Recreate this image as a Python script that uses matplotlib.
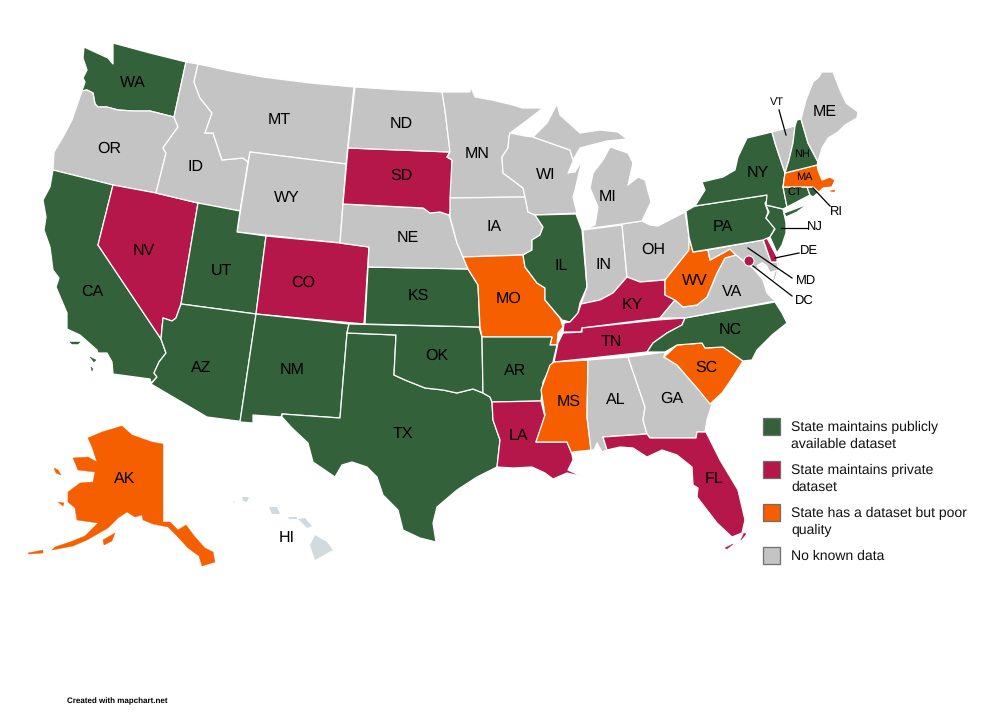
import matplotlib
matplotlib.use('Agg')
import matplotlib.pyplot as plt
from matplotlib.patches import Polygon, Rectangle, Circle

plt.rcParams['font.family'] = ['Liberation Sans', 'DejaVu Sans']
plt.rcParams['text.hinting'] = 'none'
plt.rcParams['text.hinting_factor'] = 1

# Status groups
public_states = ['WA', 'CA', 'UT', 'AZ', 'NM', 'TX', 'OK', 'KS', 'AR', 'IL', 'NC', 'PA', 'NY', 'NJ', 'NH', 'CT', 'RI']
private_states = ['NV', 'CO', 'SD', 'KY', 'TN', 'LA', 'FL', 'DE', 'DC']
poor_states = ['AK', 'MO', 'MS', 'WV', 'SC', 'MA']

colors = {'public': '#33623a', 'private': '#b5174b', 'poor': '#f65f00', 'none': '#c4c4c4'}
hawaii_color = '#d0dadf'

legend_labels = [
    ('public', 'State maintains publicly\navailable dataset'),
    ('private', 'State maintains private\ndataset'),
    ('poor', 'State has a dataset but poor\nquality'),
    ('none', 'No known data'),
]

# State outlines in pixels
outlines = {
    'WA': [(84,47),(97,53),(108,58),(113,64),(113,53),(113,43),(150,53),(186,62),(174,117),(150,111),(133,111),(118,110),(107,107),(98,107),(95,104),(93,93),(87,90),(82,91),(85,82),(83,78),(87,70),(83,58)],
    'OR': [(82,91),(87,90),(93,93),(95,104),(98,107),(107,107),(118,110),(133,111),(150,111),(174,117),(178,127),(170,138),(163,148),(166,153),(156,193),(113,185),(53,170),(54,152),(63,137),(72,120)],
    'CA': [(53,170),(113,185),(98,245),(161,339),(166,353),(159,362),(154,373),(157,377),(151,383),(150,379),(113,374),(112,362),(107,353),(98,353),(97,350),(80,335),(67,329),(67,313),(56,287),(59,278),(53,270),(50,247),(44,230),(46,217),(43,200),(50,187)],
    'NV': [(113,185),(156,193),(198,203),(181,304),(176,318),(172,321),(163,318),(161,339),(98,245)],
    'ID': [(186,62),(198,64),(194,82),(200,98),(212,113),(205,133),(213,133),(222,160),(243,158),(248,162),(240,211),(198,203),(156,193),(166,153),(163,148),(170,138),(178,127),(174,117)],
    'MT': [(198,64),(230,71),(263,77),(310,83),(354,87),(346,164),(250,152),(248,162),(243,158),(222,160),(213,133),(205,133),(212,113),(200,98),(194,82)],
    'WY': [(250,152),(346,164),(340,243),(237,232)],
    'UT': [(198,203),(240,211),(237,232),(266,236),(256,314),(181,304)],
    'CO': [(266,236),(340,243),(369,247),(364,324),(256,314)],
    'AZ': [(181,304),(256,314),(240,422),(253,423),(207,417),(151,384),(157,377),(154,373),(159,362),(166,353),(161,339),(163,318),(172,321),(176,318)],
    'NM': [(256,314),(349,324),(347,333),(340,418),(282,414),(281,417),(253,415),(253,423),(240,422)],
    'TX': [(347,333),(396,335),(394,375),(405,380),(425,388),(443,390),(457,393),(473,389),(483,393),(490,397),(492,402),(493,420),(500,440),(497,467),(477,477),(457,490),(437,507),(433,523),(436,542),(420,538),(403,530),(398,510),(383,495),(377,477),(367,467),(352,462),(342,465),(335,477),(313,462),(308,443),(292,428),(282,417),(282,414),(340,418)],
    'OK': [(349,324),(479,327),(482,337),(483,393),(473,389),(457,393),(443,390),(425,388),(405,380),(394,375),(396,335),(347,333)],
    'KS': [(368,267),(468,269),(473,277),(478,285),(480,327),(365,324)],
    'NE': [(343,204),(423,208),(430,213),(440,212),(449,215),(457,243),(463,257),(468,269),(368,267),(369,247),(340,243)],
    'SD': [(348,148),(450,152),(447,157),(452,160),(452,197),(450,213),(449,215),(440,212),(430,213),(423,208),(343,204)],
    'ND': [(355,87),(400,90),(442,92),(445,110),(450,152),(348,148)],
    'MN': [(442,92),(470,92),(470,85),(475,97),(492,100),(513,105),(522,108),(543,108),(525,122),(510,133),(509,137),(508,148),(502,157),(503,173),(523,188),(525,197),(450,198),(452,160),(447,157),(450,152),(445,110)],
    'IA': [(450,198),(525,197),(528,212),(535,215),(543,227),(540,235),(532,240),(532,250),(523,255),(463,257),(457,243),(450,217)],
    'MO': [(463,257),(523,255),(525,267),(537,283),(545,288),(545,300),(560,318),(563,327),(558,333),(557,345),(550,345),(552,337),(482,337),(480,327),(478,285),(473,277),(468,269)],
    'AR': [(482,337),(552,337),(550,345),(557,345),(553,362),(543,382),(541,401),(492,402),(490,397),(483,393)],
    'LA': [(492,402),(541,401),(545,417),(536,442),(567,442),(572,454),(573,460),(568,470),(583,477),(567,473),(553,479),(545,473),(532,467),(513,468),(497,467),(500,440),(493,420)],
    'WI': [(510,133),(525,136),(533,137),(570,150),(573,160),(578,150),(568,173),(575,172),(582,160),(575,190),(573,197),(577,213),(535,215),(528,212),(525,197),(523,188),(503,173),(502,157),(508,148),(509,137)],
    'IL': [(535,215),(576,214),(582,230),(587,287),(580,303),(578,313),(570,322),(562,320),(545,300),(545,288),(537,283),(525,267),(523,255),(532,250),(532,240),(540,235),(543,227)],
    'IN': [(583,230),(622,225),(627,277),(613,293),(600,300),(581,304),(587,287)],
    'OH': [(622,224),(642,221),(650,225),(658,226),(685,212),(689,237),(689,250),(673,270),(665,280),(640,282),(627,277)],
    'MI_lower': [(585,229),(595,225),(598,207),(590,188),(593,173),(603,160),(610,147),(628,153),(633,163),(628,185),(638,177),(645,180),(651,202),(642,221),(622,224)],
    'MI_upper': [(533,137),(547,123),(557,104),(560,115),(580,133),(600,130),(618,132),(627,139),(607,141),(580,148),(573,160),(570,150)],
    'KY': [(563,332),(564,323),(570,322),(578,313),(581,304),(600,300),(613,293),(627,277),(640,282),(665,280),(665,295),(675,300),(660,318),(582,328),(581,332)],
    'TN': [(563,333),(582,332),(582,328),(657,320),(685,318),(682,325),(667,333),(653,343),(647,352),(554,362),(558,343)],
    'MS': [(554,362),(588,360),(587,417),(591,450),(573,452),(572,454),(567,442),(536,442),(545,415),(541,390),(550,365)],
    'AL': [(588,360),(628,357),(645,407),(643,420),(647,434),(603,437),(607,450),(602,452),(597,443),(594,450),(591,450),(587,417)],
    'GA': [(628,357),(665,352),(664,357),(677,365),(697,388),(712,404),(707,420),(705,432),(697,432),(696,438),(650,438),(647,434),(643,420),(645,407)],
    'FL': [(603,437),(647,434),(650,438),(696,438),(697,432),(706,432),(720,460),(738,490),(745,520),(742,533),(732,537),(717,523),(697,497),(698,488),(693,485),(692,467),(677,455),(662,450),(647,457),(633,448),(620,447),(607,450)],
    'FL_key1': [(744,533),(746,534),(741,540)],
    'FL_key2': [(725,548),(733,544),(727,549)],
    'SC': [(664,357),(677,345),(702,343),(705,348),(723,347),(743,361),(733,377),(722,393),(710,404),(697,388),(677,365)],
    'NC': [(647,352),(653,343),(667,333),(682,325),(685,318),(775,302),(782,313),(787,323),(772,335),(757,350),(752,360),(743,361),(723,347),(705,348),(702,343),(677,345),(665,352)],
    'VA': [(660,318),(675,300),(683,307),(697,305),(707,297),(717,273),(725,258),(736,255),(745,262),(753,268),(763,280),(767,293),(775,301),(685,318)],
    'VA_shore': [(777,263),(780,262),(775,280),(772,282)],
    'WV': [(689,237),(693,252),(708,250),(710,260),(723,253),(730,249),(736,255),(725,258),(717,273),(707,297),(697,305),(683,307),(675,300),(665,295),(665,280),(673,270),(689,250)],
    'MD': [(708,250),(763,240),(771,262),(777,262),(779,270),(768,273),(770,288),(760,275),(757,268),(753,268),(745,262),(736,255),(730,249),(723,253),(710,260)],
    'DE': [(763,239),(767,238),(777,257),(777,262),(771,262)],
    'PA': [(686,211),(695,206),(767,195),(768,200),(765,203),(768,212),(766,218),(775,228),(770,237),(763,240),(693,252),(689,237)],
    'NJ': [(766,205),(783,209),(786,223),(786,233),(782,245),(777,253),(770,237),(775,229),(766,218),(769,212)],
    'NY': [(695,206),(705,190),(702,182),(723,177),(735,170),(738,157),(747,138),(772,132),(775,143),(785,173),(783,187),(787,207),(783,209),(766,205),(767,195)],
    'NY_li': [(784,213),(808,204),(797,212),(786,217)],
    'CT': [(783,187),(807,187),(810,195),(787,207)],
    'RI': [(807,187),(813,187),(819,192),(813,197),(810,195)],
    'MA': [(785,173),(817,165),(818,170),(822,180),(830,177),(835,180),(832,187),(823,188),(819,192),(813,187),(783,187)],
    'MA_isl': [(830,191),(835,190),(834,192)],
    'VT': [(772,132),(795,126),(793,143),(789,160),(785,173),(775,143)],
    'NH': [(797,120),(801,119),(808,143),(818,162),(817,165),(785,173),(789,160),(793,143),(795,126)],
    'ME': [(801,119),(806,100),(813,82),(818,78),(822,72),(833,72),(840,90),(846,103),(858,112),(857,118),(845,125),(838,132),(828,138),(822,148),(818,162),(808,143)],
    'AK': [(88,438),(102,432),(122,426),(132,435),(152,442),(163,444),(163,522),(170,522),(178,530),(186,525),(195,537),(205,548),(213,552),(215,562),(202,566),(199,556),(188,548),(178,537),(168,527),(153,524),(143,520),(142,515),(135,517),(127,512),(118,518),(108,528),(87,540),(73,546),(52,550),(55,547),(70,542),(85,536),(98,523),(77,520),(75,508),(68,502),(68,492),(80,483),(93,482),(95,472),(78,470),(73,458),(88,457),(97,462),(92,447)],
    'AK_kodiak': [(103,540),(115,533),(112,541),(104,545)],
    'AK_lawrence': [(54,468),(58,470),(61,475),(56,473)],
    'AK_nunivak': [(58,502),(64,503),(63,506)],
    'AK_aleut': [(28,553),(38,551),(43,550),(43,553),(29,554)],
    'CA_isl1': [(90,357),(96,360),(94,362)],
    'CA_isl2': [(91,367),(93,369),(92,371)],
    'CA_isl3': [(70,342),(80,342),(78,344),(72,344)],
}

hawaii_islands = [
    [(310,545),(315,535),(327,542),(333,550),(315,560)],
    [(298,519),(305,518),(312,526),(307,528)],
    [(288,517),(297,517),(297,519),(289,519)],
    [(269,507),(277,507),(280,514),(272,514)],
    [(242,497),(249,497),(247,502),(243,501)],
    [(233,502),(235,501),(234,503)],
]

bay_water = [(762,262),(757,265),(760,275),(765,280),(770,288),(773,278),(767,265)]
dc_center = (749,261)

labels = {
    'WA': (133,83), 'OR': (109,149), 'ID': (196,167), 'MT': (279,120), 'WY': (287,198), 'ND': (401,124),
    'SD': (401,176), 'NE': (408,238), 'KS': (418,296), 'CO': (303,283), 'UT': (221,271), 'NV': (144,251),
    'CA': (92,292), 'AZ': (201,368), 'NM': (292,370), 'TX': (403,434), 'OK': (437,356), 'MN': (477,154),
    'IA': (494,227), 'MO': (509,299), 'AR': (515,371), 'LA': (518,436), 'MS': (569,402), 'AL': (616,400),
    'GA': (672,399), 'FL': (714,479), 'SC': (706,368), 'NC': (730,330), 'TN': (611,342), 'KY': (632,305),
    'IL': (561,266), 'IN': (604,265), 'OH': (653,250), 'MI': (608,197), 'WI': (546,175), 'WV': (695,281),
    'VA': (732,292), 'PA': (723,227), 'NY': (758,173), 'ME': (825,112), 'AK': (125,479), 'HI': (287,538),
}
small_labels = {'VT': (777,102), 'NH': (802,154), 'MA': (804,177), 'CT': (795,192)}
callout_labels = {'RI': (836,212), 'NJ': (815,228), 'DE': (809,251), 'MD': (806,281), 'DC': (804,301)}
callout_lines = [
    ((779,110),(786,135)), ((813,188),(830,206)), ((781,228),(807,228)),
    ((775,258),(799,253)), ((748,248),(792,278)), ((753,266),(792,296)),
]


def state_color(name):
    code = name.split('_')[0]
    if code in public_states:
        return colors['public']
    if code in private_states:
        return colors['private']
    if code in poor_states:
        return colors['poor']
    return colors['none']


fig = plt.figure(figsize=(10, 7.12), dpi=100)
ax = fig.add_axes([0, 0, 1, 1])
ax.set_xlim(0, 1000)
ax.set_ylim(712, 0)
ax.axis('off')

for name, pts in outlines.items():
    # small islands and Alaska keep their own colour on the edge, white would eat them
    if name.startswith('AK') or 'isl' in name or 'key' in name:
        edge = state_color(name)
        lw = 0.3
    else:
        edge = 'white'
        lw = 0.9
    ax.add_patch(Polygon(pts, closed=True, facecolor=state_color(name), edgecolor=edge, linewidth=lw, joinstyle='round'))

for pts in hawaii_islands:
    ax.add_patch(Polygon(pts, closed=True, facecolor=hawaii_color, edgecolor='none'))

ax.add_patch(Polygon(bay_water, closed=True, facecolor='white', edgecolor='none', zorder=2))
ax.add_patch(Circle(dc_center, 5, facecolor=colors['private'], edgecolor='white', linewidth=0.8, zorder=3))

for (x0, y0), (x1, y1) in callout_lines:
    ax.plot([x0, x1], [y0, y1], color='black', linewidth=0.9, zorder=4)

for code, (x, y) in labels.items():
    ax.text(x, y, code, fontsize=11.5, ha='center', va='center', color='black', zorder=5)
for code, (x, y) in small_labels.items():
    ax.text(x, y, code, fontsize=8, ha='center', va='center', color='black', zorder=5)
for code, (x, y) in callout_labels.items():
    ax.text(x, y, code, fontsize=9, ha='center', va='center', color='black', zorder=5)

# Legend
legend_y = [426, 469, 512, 555]
for (key, text), y in zip(legend_labels, legend_y):
    ax.add_patch(Rectangle((763, y - 8), 17, 17, facecolor=colors[key], edgecolor='#6e6e6e', linewidth=0.9))
    ax.text(791, y - 5.5, text, fontsize=10.3, ha='left', va='top', linespacing=1.42, color='#111111')

ax.text(67, 701, 'Created with mapchart.net', fontsize=5.7, fontweight='bold', ha='left', va='center', color='black')

fig.savefig('out.png', dpi=100)
